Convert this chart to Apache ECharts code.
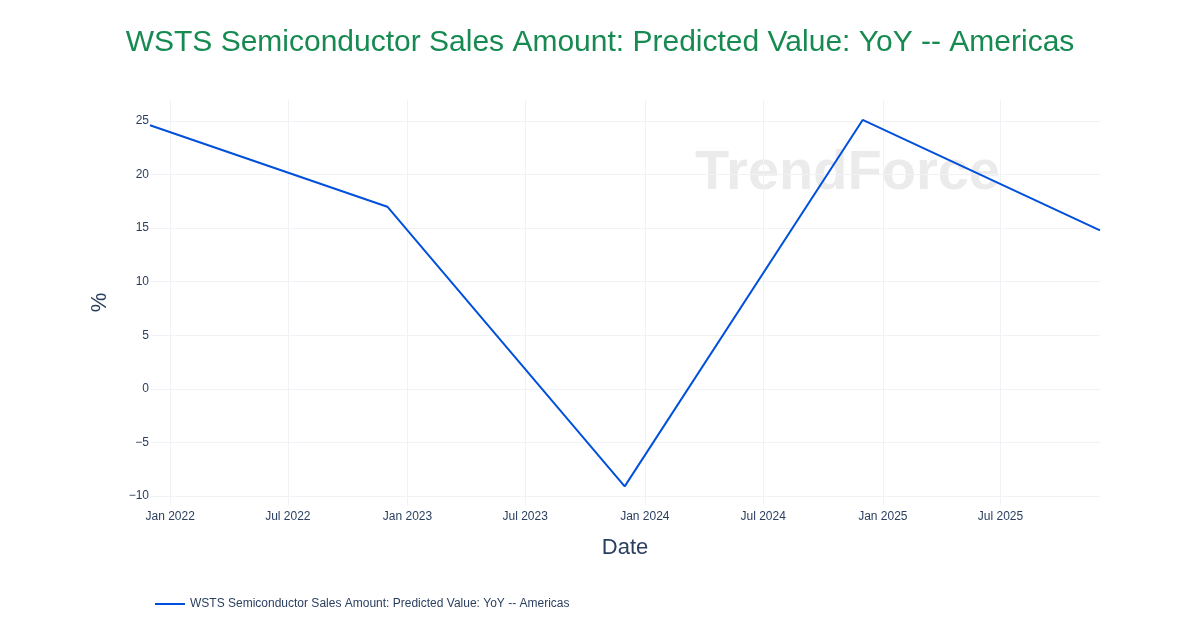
<!DOCTYPE html>
<html>
<head>
<meta charset="utf-8">
<title>WSTS Semiconductor Sales Amount: Predicted Value: YoY -- Americas</title>
<script src="https://cdn.jsdelivr.net/npm/echarts@6/dist/echarts.min.js"></script>
<style>
  html, body { margin: 0; padding: 0; background: #fff; }
  #chart { width: 1200px; height: 630px; }
</style>
</head>
<body>
<div id="chart"></div>
<script>
const seriesName = 'WSTS Semiconductor Sales Amount: Predicted Value: YoY -- Americas'
const dates = ['2021-12-01', '2022-12-01', '2023-12-01', '2024-12-01', '2025-12-01']
const yoy = [24.6, 17.0, -9.1, 25.1, 14.8]
const xTicks = ['2022-01-01', '2022-07-01', '2023-01-01', '2023-07-01', '2024-01-01', '2024-07-01', '2025-01-01', '2025-07-01']
const yTicks = [-10, -5, 0, 5, 10, 15, 20, 25]

const MONTHS = ['Jan', 'Feb', 'Mar', 'Apr', 'May', 'Jun', 'Jul', 'Aug', 'Sep', 'Oct', 'Nov', 'Dec']
const ts = (s) => Date.UTC(+s.slice(0, 4), +s.slice(5, 7) - 1, +s.slice(8, 10))
const xTickValues = xTicks.map(ts)

const font = '"Liberation Sans", Arial, sans-serif'
const tickColor = '#2a3f5f'
const gridColor = '#f0f2f5'

const chart = echarts.init(document.getElementById('chart'))

chart.setOption({
  animation: false,
  textStyle: { fontFamily: font },
  title: {
    text: seriesName,
    left: 'center',
    top: 23,
    textStyle: { fontSize: 30, fontWeight: 'normal', color: '#178a52', fontFamily: font },
  },
  // faint logo watermark behind the plot
  graphic: [
    {
      type: 'text',
      left: 695,
      top: 146,
      z: 0,
      style: {
        text: 'TrendForce',
        fontSize: 56,
        fontWeight: 'bold',
        fontFamily: font,
        fill: 'rgba(190,190,190,0.3)',
      },
    },
  ],
  legend: {
    left: 150,
    top: 593,
    itemWidth: 30,
    itemHeight: 2,
    itemGap: 5,
    icon: 'rect',
    textStyle: { fontSize: 12, color: tickColor, fontFamily: font },
    data: [seriesName],
  },
  grid: { left: 150, right: 100, top: 100, bottom: 125 },
  xAxis: {
    type: 'value',
    min: ts(dates[0]),
    max: ts(dates[dates.length - 1]),
    name: 'Date',
    nameLocation: 'middle',
    nameGap: 32,
    nameTextStyle: { fontSize: 22, color: tickColor, fontFamily: font },
    axisLine: { show: false },
    axisTick: { show: false, customValues: xTickValues },
    axisLabel: {
      customValues: xTickValues,
      fontSize: 12,
      color: tickColor,
      margin: 6,
      formatter: (v) => {
        const d = new Date(v)
        return MONTHS[d.getUTCMonth()] + ' ' + d.getUTCFullYear()
      },
    },
    splitLine: { show: true, lineStyle: { color: gridColor, width: 1 } },
  },
  yAxis: {
    type: 'value',
    min: -10.84,
    max: 26.96,
    name: '%',
    nameLocation: 'middle',
    nameGap: 39,
    nameRotate: 90,
    nameTextStyle: { fontSize: 22, color: tickColor, fontFamily: font },
    axisLine: { show: false },
    axisTick: { show: false, customValues: yTicks },
    axisLabel: {
      customValues: yTicks,
      fontSize: 12,
      color: tickColor,
      margin: 1,
      formatter: (v) => (v < 0 ? '\u2212' + Math.abs(v) : String(v)),
    },
    splitLine: { show: true, lineStyle: { color: gridColor, width: 1 } },
  },
  series: [
    {
      name: seriesName,
      type: 'line',
      data: dates.map((d, i) => [ts(d), yoy[i]]),
      showSymbol: false,
      symbol: 'none',
      lineStyle: { color: '#0050dc', width: 2 },
      itemStyle: { color: '#0050dc' },
      z: 3,
    },
  ],
})
</script>
</body>
</html>
